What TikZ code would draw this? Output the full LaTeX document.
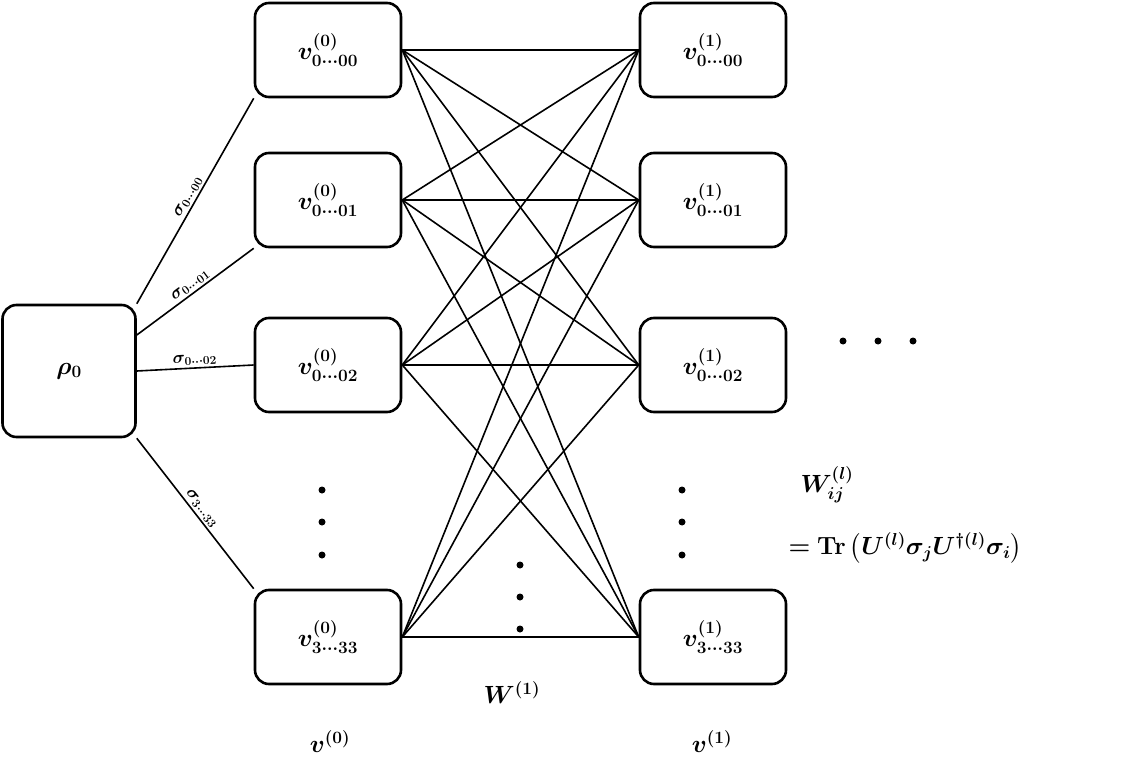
\documentclass[tikz,border=0pt]{standalone}
\usepackage{amsmath,bm}
\begin{document}
\begin{tikzpicture}[x=1pt,y=-1pt,
 box/.style={draw,line width=2.6pt,rounded corners=14pt,minimum width=146pt,minimum height=94pt,inner sep=0pt,font=\fontsize{26}{30}\selectfont},
 ln/.style={line width=1.6pt},
 dot/.style={circle,fill,inner sep=0pt,minimum size=7pt},
 lab/.style={font=\fontsize{17}{20}\selectfont,sloped,above,inner sep=2pt}]
\useasboundingbox (0,0) rectangle (1125,762);
\node[box,minimum width=133pt,minimum height=132pt] (r) at (69,371) {$\bm{\rho_0}$};
\foreach \n/\y/\s in {a/50/{0\cdots00},b/200/{0\cdots01},c/365/{0\cdots02},d/637/{3\cdots33}}{
 \node[box] (L\n) at (328,\y) {$\bm{v^{(0)}_{\s}}$};
 \node[box] (R\n) at (713,\y) {$\bm{v^{(1)}_{\s}}$};}
\foreach \i in {a,b,c,d}{\foreach \j in {a,b,c,d}{\draw[ln] (L\i.east) -- (R\j.west);}}
\draw[ln] (r.north east) -- node[lab,pos=0.5]{$\bm{\sigma_{0\cdots00}}$} (La.south west);
\draw[ln] (r.east) ++(0,-36) coordinate (r1) (r1) -- node[lab]{$\bm{\sigma_{0\cdots01}}$} (Lb.south west);
\draw[ln] (r.east) -- node[lab]{$\bm{\sigma_{0\cdots02}}$} (Lc.west);
\draw[ln] (r.south east) -- node[lab]{$\bm{\sigma_{3\cdots33}}$} (Ld.north west);
\foreach \y in {490,522,555}{\node[dot] (p\y) at (322,\y){}; \node[dot] (q\y) at (682,\y){};}
\foreach \y in {565,597,629}{\node[dot] (m\y) at (520,\y){};}
\foreach \x in {843,878,913}{\node[dot] (h\x) at (\x,341){};}
\node[font=\fontsize{24}{28}\selectfont] (W) at (512,693) {$\bm{W^{(1)}}$};
\node[font=\fontsize{24}{28}\selectfont] (v0) at (330,742) {$\bm{v^{(0)}}$};
\node[font=\fontsize{24}{28}\selectfont] (v1) at (712,742) {$\bm{v^{(1)}}$};
\node[font=\fontsize{24}{28}\selectfont,anchor=west] (f1) at (797,485) {$\bm{W^{(l)}_{ij}}$};
\node[font=\fontsize{24}{28}\selectfont,anchor=west] (f2) at (785,548) {$\bm{=\mathrm{Tr}\left(U^{(l)}\sigma_jU^{\dagger(l)}\sigma_i\right)}$};
\end{tikzpicture}
\end{document}
